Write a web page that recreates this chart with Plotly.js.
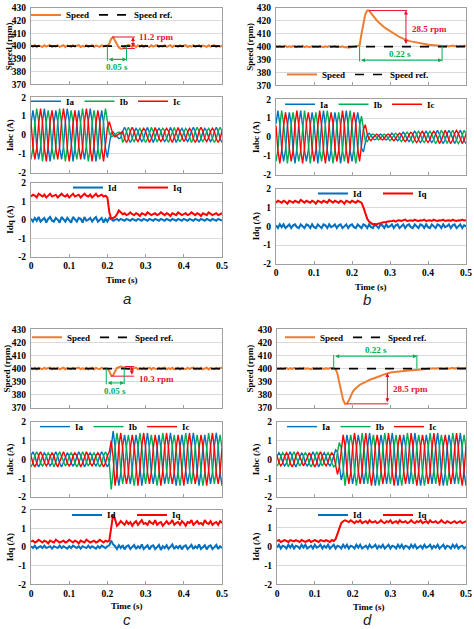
<!DOCTYPE html>
<html><head><meta charset="utf-8">
<script src="https://cdn.plot.ly/plotly-3.0.1.min.js"></script>
<style>html,body{margin:0;padding:0;background:#fff}#chart{width:474px;height:629px}</style>
</head><body><div id="chart"></div>
<script>
// ---------- sampling of all measured series (time axis in seconds) ----------
const T0 = 0, DT = 0.005;
const timeTicks = [0, 0.1, 0.2, 0.3, 0.4, 0.5];
const timeTickText = ['0', '0.1', '0.2', '0.3', '0.4', '0.5'];
const speedTicks = [370, 380, 390, 400, 410, 420, 430];
const currentTicks = [-2, -1, 0, 1, 2];
const currentTickText = ['-2', '-1', '0', '1', '2'];
const refTime = [0, 0.5];
const speedRef = [400, 400];
const panelLetters = ['a', 'b', 'c', 'd'];

// ---------- panel a ----------
const speedA = [400.5,399.5,400.8,399.3,400.5,400,399.4,400.7,399.6,400.4,400.8,399.4,400.3,399.6,400.7,399.5,400.4,400.8,399.3,400.5,
400,399.4,400.7,399.6,400.4,400.8,399.4,400.3,399.6,400.7,399.5,400.4,400.8,399.3,400.5,400,399.4,400.7,399.6,400.4,400.2,
402,406,407,404,401,399,398,398.2,399.2,400.3,401,
400.4,399.5,400.8,399.4,400.6,399.6,400.7,399.3,400.5,400,399.4,400.7,399.6,400.4,400.8,399.4,400.3,399.6,400.7,399.5,
400.4,400.8,399.3,400.5,400,399.4,400.7,399.6,400.4,400.8,399.4,400.3,399.6,400.7,399.5,400.4,400.8,399.3,400.5,400,
399.4,400.7,399.6,400.4,400.8,399.4,400.3,399.6,400.5];
const iaA = [0.6,1.3,0.7,-0.6,-1.3,-0.7, 0.7,1.4,0.6,-0.7,-1.4,-0.6, 0.6,1.3,0.7,-0.7,-1.3,-0.6, 0.7,1.4,0.7,-0.6,-1.4,-0.7,
0.6,1.3,0.6,-0.7,-1.3,-0.6, 0.7,1.4,0.7,-0.6,-1.4,-0.7, 0.6,1.3,0.6,-0.7,
-1.2,-0.5,0.1,0.15,0.05,-0.05,-0.2,-0.15,
0.2,0.4,0.2,-0.2,-0.4,-0.2, 0.15,0.35,0.2,-0.15,-0.35,-0.2, 0.2,0.4,0.15,-0.2,-0.4,-0.15, 0.2,0.35,0.2,-0.2,-0.35,-0.2,
0.15,0.4,0.2,-0.15,-0.4,-0.2, 0.2,0.35,0.15,-0.2,-0.35,-0.15, 0.2,0.4,0.2,-0.2,-0.4,-0.2, 0.15,0.35,0.2,-0.15,-0.35,-0.2,
0.2,0.4,0.2,-0.2,-0.4];
const ibA = [-1.3,-0.7,0.6,1.4,0.7,-0.6, -1.4,-0.6,0.7,1.3,0.6,-0.7, -1.3,-0.7,0.7,1.4,0.6,-0.6, -1.4,-0.7,0.6,1.3,0.7,-0.7,
-1.3,-0.6,0.7,1.4,0.6,-0.6, -1.4,-0.7,0.6,1.3,0.7,-0.7, -1.3,-0.6,0.7,1.4,
0.8,0.1,-0.1,-0.05,0.0,0.1,0.15,0.1,
-0.4,-0.2,0.2,0.4,0.2,-0.2, -0.35,-0.15,0.2,0.35,0.15,-0.2, -0.4,-0.2,0.15,0.4,0.2,-0.15, -0.35,-0.2,0.2,0.35,0.2,-0.2,
-0.4,-0.15,0.2,0.4,0.15,-0.2, -0.35,-0.2,0.15,0.35,0.2,-0.15, -0.4,-0.2,0.2,0.4,0.2,-0.2, -0.35,-0.15,0.2,0.35,0.15,-0.2,
-0.4,-0.2,0.2,0.4,0.2];
const icA = [0.7,-0.6,-1.3,-0.7,0.6,1.4, 0.7,-0.7,-1.4,-0.6,0.7,1.3, 0.6,-0.7,-1.3,-0.6,0.7,1.4, 0.7,-0.7,-1.4,-0.7,0.6,1.3,
0.6,-0.6,-1.3,-0.7,0.7,1.4, 0.7,-0.7,-1.4,-0.6,0.6,1.3, 0.7,-0.7,-1.4,-0.6,
0.4,0.7,0.3,0.0,-0.1,0.0,0.05,0.1,
0.2,-0.2,-0.4,-0.2,0.2,0.4, 0.2,-0.2,-0.35,-0.15,0.2,0.35, 0.2,-0.15,-0.4,-0.2,0.15,0.4, 0.15,-0.2,-0.35,-0.2,0.2,0.35,
0.2,-0.2,-0.4,-0.15,0.2,0.4, 0.15,-0.15,-0.35,-0.2,0.15,0.35, 0.2,-0.2,-0.4,-0.2,0.2,0.4, 0.2,-0.2,-0.35,-0.15,0.2,0.35,
0.2,-0.2,-0.4,-0.2,0.2];
const idA = [0.05,-0.1,0.1,-0.05,0.15,-0.1,0.0,0.1,-0.15,0.05,0.15,-0.05,-0.1,0.1,0.0,-0.15,0.15,0.05,-0.1,0.1,
-0.05,-0.15,0.15,0.0,-0.1,0.1,0.05,-0.15,0.15,-0.05,0.0,0.1,-0.1,0.05,0.15,-0.1,0.0,0.1,-0.15,0.05,
-0.1,0.1,0.05,-0.05,0.0,0.05,-0.05,0.05,0.0,-0.05,0.05,0.0,-0.05,0.05,0.02,-0.05,0.05,0.0,-0.05,0.05,
0.0,-0.05,0.05,0.02,-0.05,0.05,0.0,-0.05,0.05,0.0,-0.05,0.05,0.02,-0.05,0.05,0.0,-0.05,0.05,0.0,-0.05,
0.05,0.02,-0.05,0.05,0.0,-0.05,0.05,0.0,-0.05,0.05,0.02,-0.05,0.05,0.0,-0.05,0.05,0.0,-0.05,0.05,0.02,-0.05];
const iqA = [1.25,1.35,1.3,1.2,1.4,1.3,1.25,1.35,1.2,1.3,1.4,1.25,1.3,1.35,1.2,1.3,1.4,1.3,1.25,1.35,
1.2,1.3,1.4,1.25,1.3,1.35,1.2,1.3,1.4,1.3,1.25,1.35,1.2,1.3,1.4,1.25,1.3,1.35,1.25,1.3,
1.2,0.4,0.05,0.1,0.15,0.3,0.5,0.4,
0.3,0.35,0.25,0.3,0.4,0.3,0.25,0.35,0.3,0.2,0.35,0.3,0.25,0.4,0.3,0.25,0.3,0.35,0.25,0.3,
0.4,0.3,0.25,0.35,0.3,0.2,0.35,0.3,0.25,0.4,0.3,0.25,0.3,0.35,0.25,0.3,0.4,0.3,0.25,0.35,
0.3,0.2,0.35,0.3,0.25,0.4,0.3,0.25,0.3,0.35,0.25,0.3,0.35];

// ---------- panel b ----------
const speedB = [400.3,399.8,400.5,399.6,400.2,400.6,399.7,400.3,399.8,400.5,400.1,399.6,400.4,399.9,400.6,399.7,400.3,400,399.6,400.5,
399.8,400.3,399.7,400.5,400,399.6,400.3,399.8,400.4,399.7,400.2,400.5,399.6,400.1,399.8,400.3,399.5,399.8,399.2,399.5,
399.3,399.6,400,400.3,
401,410,419,425,428,428,426,424,422,420.5,
419,417.5,416,415,414,413,412,411,410,409,
408.3,407.5,406.8,406.1,405.5,405,404.5,404.1,403.8,403.4,
403,402.7,402.4,402.1,401.9,401.7,401.5,401.3,401.2,401.1,
401,
400.6,401,400.4,400.8,400.3,400.7,400.2,400.6,400.9,400.3,400.6,400.2,400.7,400.4,400.8,400.5];
const iaB = [0.7,1.4,0.7,-0.6,-1.3,-0.7, 0.6,1.3,0.7,-0.7,-1.4,-0.6, 0.7,1.4,0.6,-0.7,-1.3,-0.7, 0.6,1.3,0.7,-0.6,-1.4,-0.6,
0.7,1.4,0.6,-0.7,-1.3,-0.7, 0.6,1.3,0.7,-0.6,-1.4,-0.7, 0.7,1.4,0.6,-0.7,-1.3,-0.6,
0.7,1.3,0.7,
-0.6,-0.8,-0.3,0.1,0.2,0.1,
-0.1,-0.15,-0.1,
0.08,0.15,0.08,-0.08,-0.15,-0.08, 0.1,0.2,0.1,-0.1,-0.2,-0.1, 0.12,0.25,0.12,-0.12,-0.25,-0.12, 0.15,0.3,0.15,-0.15,-0.3,-0.15,
0.15,0.3,0.15,-0.15,-0.3,-0.15, 0.18,0.35,0.15,-0.18,-0.35,-0.15, 0.15,0.35,0.18,-0.15,-0.35,-0.18,
0.18,0.35,0.15,-0.18,-0.35];
const ibB = [-1.3,-0.7,0.6,1.4,0.7,-0.6, -1.4,-0.6,0.7,1.3,0.6,-0.7, -1.3,-0.7,0.6,1.4,0.7,-0.6, -1.4,-0.7,0.7,1.3,0.6,-0.7,
-1.3,-0.6,0.7,1.4,0.7,-0.6, -1.4,-0.7,0.6,1.3,0.6,-0.7, -1.3,-0.6,0.7,1.4,0.6,-0.7,
-1.4,-0.7,0.6,
1.1,0.4,-0.2,-0.25,-0.1,0.1,
0.15,0.1,-0.05,
-0.15,-0.08,0.08,0.15,0.08,-0.08, -0.2,-0.1,0.1,0.2,0.1,-0.1, -0.25,-0.12,0.12,0.25,0.12,-0.12, -0.3,-0.15,0.15,0.3,0.15,-0.15,
-0.3,-0.15,0.15,0.3,0.15,-0.15, -0.35,-0.18,0.15,0.35,0.18,-0.15, -0.35,-0.15,0.18,0.35,0.15,-0.18,
-0.35,-0.18,0.15,0.35,0.18];
const icB = [0.6,-0.7,-1.4,-0.7,0.6,1.3, 0.7,-0.6,-1.3,-0.7,0.7,1.4, 0.6,-0.7,-1.4,-0.6,0.7,1.3, 0.7,-0.6,-1.3,-0.7,0.6,1.4,
0.6,-0.7,-1.4,-0.6,0.7,1.3, 0.7,-0.6,-1.3,-0.7,0.6,1.4, 0.6,-0.7,-1.4,-0.6,0.7,1.3,
0.7,-0.6,-1.3,
-0.5,0.4,0.65,0.15,-0.1,-0.2,
-0.05,0.05,0.15,
0.08,-0.08,-0.15,-0.08,0.08,0.15, 0.1,-0.1,-0.2,-0.1,0.1,0.2, 0.12,-0.12,-0.25,-0.12,0.12,0.25, 0.15,-0.15,-0.3,-0.15,0.15,0.3,
0.15,-0.15,-0.3,-0.15,0.15,0.3, 0.18,-0.15,-0.35,-0.18,0.15,0.35, 0.15,-0.18,-0.35,-0.15,0.18,0.35,
0.18,-0.15,-0.35,-0.18,0.15];
const idB = [0.05,-0.1,0.1,-0.05,0.1,-0.1,0.0,0.1,-0.1,0.05, 0.1,-0.05,-0.1,0.1,0.0,-0.1,0.1,0.05,-0.1,0.1,
-0.05,-0.1,0.1,0.0,-0.1,0.1,0.05,-0.1,0.1,-0.05, 0.0,0.1,-0.1,0.05,0.1,-0.1,0.0,0.1,-0.1,0.05,
0.1,-0.05,-0.1,0.1,0.0,-0.1,0.1,0.05,-0.1,0.1, -0.05,-0.1,0.1,0.0,-0.1,0.1,0.05,-0.1,0.1,-0.05,
0.0,0.1,-0.1,0.05,0.1,-0.1,0.0,0.1,-0.1,0.05, 0.1,-0.05,-0.1,0.1,0.0,-0.1,0.1,0.05,-0.1,0.1,
-0.05,-0.1,0.1,0.0,-0.1,0.1,0.05,-0.1,0.1,-0.05, 0.0,0.1,-0.1,0.05,0.1,-0.1,0.0,0.1,-0.1,0.05, 0.0];
const iqB = [1.25,1.35,1.3,1.25,1.35,1.3,1.2,1.35,1.3,1.25,1.35,1.3,1.25,1.4,1.3,1.25,1.35,1.3,1.25,1.35,
1.3,1.2,1.35,1.3,1.25,1.35,1.3,1.25,1.4,1.3,1.25,1.35,1.3,1.25,1.35,1.3,1.2,1.35,1.3,1.25,
1.35,1.3,1.25,1.35,1.3,
1.25,1.0,0.7,0.4,0.25,0.15,0.1,0.12,0.1,0.15,0.15,0.2,0.2,0.22,0.25,0.25,
0.28,0.3,0.25,0.3,0.32,0.28,0.3,0.35,0.28,0.3,0.32,0.28,0.35,0.3,0.28,0.32,0.3,0.35,0.28,0.3,
0.32,0.28,0.35,0.3,0.28,0.32,0.3,0.35,0.28,0.3,0.32,0.28,0.35,0.3,0.28,0.32,0.3,0.35,0.3,0.32];

// ---------- panel c ----------
const speedC = [400.4,399.6,400.7,399.4,400.5,400,399.5,400.6,399.7,400.4,400.7,399.4,400.3,399.6,400.6,399.5,400.4,400.7,399.4,400.5,
400,399.5,400.6,399.7,400.4,400.7,399.4,400.3,399.6,400.6,399.5,400.4,400.7,399.4,400.5,400,399.5,400.6,399.7,400.3,400,
398,394.5,395,398,400.5,401,401.5,401,400.5,
400.2,399.6,400.6,399.5,400.4,400.7,399.4,400.3,399.6,400.6,399.5,400.4,400.7,399.4,400.5,400,399.5,400.6,399.7,400.4,
400.7,399.4,400.3,399.6,400.6,399.5,400.4,400.7,399.4,400.5,400,399.5,400.6,399.7,400.4,400.7,399.4,400.3,399.6,400.6,
399.5,400.4,400.7,399.4,400.5,400,399.5,400.6,399.7,400.4,400.6];
const iaC = [0.2,0.4,0.2,-0.2,-0.4,-0.2, 0.15,0.35,0.2,-0.15,-0.35,-0.2, 0.2,0.4,0.15,-0.2,-0.4,-0.15, 0.2,0.35,0.2,-0.2,-0.35,-0.2,
0.15,0.4,0.2,-0.15,-0.4,-0.2, 0.2,0.35,0.15,-0.2,-0.35,-0.15, 0.2,0.4,0.2,-0.2,-0.4,-0.2,
0.6,1.5,0.7,-0.7,-1.4,-0.7, 0.7,1.3,0.6,-0.7,-1.3,-0.6, 0.6,1.3,0.7,-0.6,-1.4,-0.7, 0.7,1.4,0.6,-0.7,-1.3,-0.6,
0.6,1.3,0.6,-0.6,-1.3,-0.7, 0.7,1.4,0.7,-0.7,-1.4,-0.6, 0.6,1.3,0.6,-0.6,-1.3,-0.7, 0.7,1.4,0.7,-0.7,-1.4,-0.6,
0.6,1.3,0.6,-0.6,-1.3,-0.7, 0.7,1.4,0.7,-0.7,-1.4];
const ibC = [-0.4,-0.2,0.2,0.4,0.2,-0.2, -0.35,-0.2,0.15,0.35,0.2,-0.15, -0.4,-0.15,0.2,0.4,0.15,-0.2, -0.35,-0.2,0.2,0.35,0.2,-0.2,
-0.4,-0.2,0.15,0.4,0.2,-0.15, -0.35,-0.15,0.2,0.35,0.15,-0.2, -0.4,-0.2,0.2,0.4,0.2,-0.2,
-1.6,-0.7,0.6,1.4,0.7,-0.6, -1.3,-0.6,0.7,1.3,0.6,-0.7, -1.4,-0.7,0.6,1.4,0.7,-0.6, -1.3,-0.6,0.7,1.3,0.6,-0.7,
-1.4,-0.7,0.6,1.4,0.7,-0.6, -1.3,-0.6,0.7,1.3,0.6,-0.7, -1.4,-0.7,0.6,1.4,0.7,-0.6, -1.3,-0.6,0.7,1.3,0.6,-0.7,
-1.4,-0.7,0.6,1.4,0.7,-0.6, -1.3,-0.6,0.7,1.3,0.6];
const icC = [0.2,-0.2,-0.4,-0.2,0.2,0.4, 0.2,-0.15,-0.35,-0.2,0.15,0.35, 0.2,-0.2,-0.4,-0.15,0.2,0.4, 0.15,-0.2,-0.35,-0.2,0.2,0.35,
0.2,-0.15,-0.4,-0.2,0.15,0.4, 0.2,-0.2,-0.35,-0.15,0.2,0.35, 0.2,-0.2,-0.4,-0.2,0.2,0.4,
1.0,0.1,-1.4,-0.7,0.7,1.4, 0.6,-0.7,-1.3,-0.7,0.6,1.3, 0.7,-0.6,-1.4,-0.6,0.7,1.4, 0.6,-0.7,-1.3,-0.7,0.6,1.3,
0.7,-0.6,-1.4,-0.6,0.7,1.4, 0.6,-0.7,-1.3,-0.7,0.6,1.3, 0.7,-0.6,-1.4,-0.6,0.7,1.4, 0.6,-0.7,-1.3,-0.7,0.6,1.3,
0.7,-0.6,-1.4,-0.6,0.7,1.4, 0.6,-0.7,-1.3,-0.7,0.6];
const idC = [0.05,-0.05,0.08,-0.08,0.0,0.05,-0.05,0.08,-0.05,0.0,0.05,-0.08,0.05,0.0,-0.05,0.08,-0.05,0.05,0.0,-0.08,
0.05,-0.05,0.08,0.0,-0.05,0.05,-0.08,0.05,0.0,-0.05,0.08,-0.05,0.05,0.0,-0.08,0.05,-0.05,0.08,0.0,-0.05,0.05,0.1,
0.35,0.15,0.05,-0.1,0.1,-0.05,0.1,-0.12,0.05,0.1,-0.1,0.0,0.12,-0.1,0.05,-0.05,0.15,-0.1,0.0,0.1,
-0.12,0.05,0.1,-0.1,0.0,0.12,-0.15,0.05,-0.05,0.1,-0.1,0.0,0.15,-0.1,0.05,-0.05,0.1,-0.12,0.05,0.1,
-0.1,0.0,0.12,-0.1,0.05,-0.05,0.15,-0.1,0.0,0.1,-0.12,0.05,0.1,-0.1,0.0,0.12,-0.1,0.05,-0.05];
const iqC = [0.3,0.35,0.25,0.3,0.4,0.3,0.25,0.35,0.3,0.2,0.35,0.3,0.25,0.4,0.3,0.25,0.3,0.35,0.25,0.3,
0.4,0.3,0.25,0.35,0.3,0.2,0.35,0.3,0.25,0.4,0.3,0.25,0.3,0.35,0.25,0.3,0.4,0.3,0.25,0.35,0.3,0.35,
1.2,1.75,1.5,1.15,1.25,1.4,
1.3,1.2,1.4,1.25,1.35,1.15,1.3,1.4,1.2,1.3,1.45,1.25,1.3,1.2,1.4,1.3,1.25,1.45,1.2,1.3,
1.35,1.15,1.3,1.4,1.25,1.3,1.45,1.2,1.3,1.35,1.2,1.4,1.3,1.15,1.35,1.3,1.45,1.2,1.3,1.4,
1.25,1.3,1.2,1.45,1.3,1.25,1.4,1.2,1.3,1.35,1.2,1.4,1.3];

// ---------- panel d ----------
const speedD = [400.3,399.7,400.4,399.8,400.2,400.5,399.6,400.3,399.8,400.4,400.1,399.7,400.4,399.9,400.5,399.7,400.3,400,399.6,400.4,
399.8,400.3,399.7,400.4,400,399.7,400.3,399.8,400.4,400.6,400.5,
399.5,396,389,381,376,373,373.2,375.5,379,382,
384,385.5,386.8,387.8,388.5,389.3,390,390.8,391.5,392,
392.4,392.8,393.2,393.8,394.5,395.2,395.8,396.3,396.7,397,
397.2,397.4,397.6,397.8,397.9,398,398.2,398.3,398.5,398.6,
398.7,398.8,398.9,399,399.2,399.3,399.5,399.6,399.8,400,
400.2,399.8,400.3,399.9,400.4,400,400.3,399.8,400.2,400.5,399.9,400.3,400.6,400,400.4,400.7,400.1,400.5,400.3,400.6];
const iaD = [0.15,0.35,0.2,-0.15,-0.35,-0.2, 0.2,0.4,0.15,-0.2,-0.4,-0.15, 0.2,0.35,0.2,-0.2,-0.35,-0.2, 0.15,0.4,0.2,-0.15,-0.4,-0.2,
0.2,0.35,0.15,-0.2,-0.35,-0.15, 0.2,0.5,0.4,-0.5,-1.1,-0.7, 0.6,1.3,0.7,-0.6,-1.3,-0.7,
0.6,1.3,0.7,-0.6,-1.3,-0.6, 0.7,1.4,0.6,-0.7,-1.4,-0.7, 0.6,1.3,0.7,-0.6,-1.3,-0.6, 0.7,1.4,0.6,-0.7,-1.4,-0.7,
0.6,1.3,0.7,-0.6,-1.3,-0.6, 0.7,1.4,0.6,-0.7,-1.4,-0.7, 0.6,1.3,0.7,-0.6,-1.3,-0.6, 0.7,1.4,0.6,-0.7,-1.4,-0.7,
0.6,1.3,0.7,-0.6,-1.3,-0.6, 0.7,1.4,0.6,-0.7,-1.4];
const ibD = [-0.35,-0.2,0.15,0.35,0.2,-0.15, -0.4,-0.15,0.2,0.4,0.15,-0.2, -0.35,-0.2,0.2,0.35,0.2,-0.2, -0.4,-0.2,0.15,0.4,0.2,-0.15,
-0.35,-0.15,0.2,0.35,0.15,-0.2, -0.4,-0.3,0.4,0.9,0.6,-0.6, -1.4,-0.6,0.7,1.3,0.7,-0.6,
-1.4,-0.7,0.6,1.4,0.7,-0.6, -1.3,-0.6,0.7,1.3,0.6,-0.7, -1.4,-0.7,0.6,1.4,0.7,-0.6, -1.3,-0.6,0.7,1.3,0.6,-0.7,
-1.4,-0.7,0.6,1.4,0.7,-0.6, -1.3,-0.6,0.7,1.3,0.6,-0.7, -1.4,-0.7,0.6,1.4,0.7,-0.6, -1.3,-0.6,0.7,1.3,0.6,-0.7,
-1.4,-0.7,0.6,1.4,0.7,-0.6, -1.3,-0.6,0.7,1.3,0.6];
const icD = [0.2,-0.15,-0.35,-0.2,0.15,0.35, 0.2,-0.2,-0.4,-0.2,0.2,0.4, 0.15,-0.15,-0.35,-0.15,0.15,0.35, 0.2,-0.2,-0.4,-0.2,0.2,0.4,
0.15,-0.2,-0.35,-0.15,0.2,0.35, 0.2,-0.3,-0.8,-0.4,0.6,1.3, 0.7,-0.6,-1.3,-0.7,0.6,1.4,
0.7,-0.6,-1.3,-0.7,0.6,1.4, 0.6,-0.7,-1.4,-0.6,0.7,1.3, 0.7,-0.6,-1.3,-0.7,0.6,1.4, 0.6,-0.7,-1.4,-0.6,0.7,1.3,
0.7,-0.6,-1.3,-0.7,0.6,1.4, 0.6,-0.7,-1.4,-0.6,0.7,1.3, 0.7,-0.6,-1.3,-0.7,0.6,1.4, 0.6,-0.7,-1.4,-0.6,0.7,1.3,
0.7,-0.6,-1.3,-0.7,0.6,1.4, 0.6,-0.7,-1.4,-0.6,0.7];
const idD = [-0.05,0.1,-0.1,0.05,0.0,-0.1,0.1,-0.05,0.1,-0.1, 0.05,0.0,-0.1,0.1,-0.05,0.1,-0.1,0.0,0.05,-0.1,
0.1,-0.05,0.0,0.1,-0.1,0.05,-0.05,0.1,-0.1,0.0, 0.1,-0.1,0.05,0.0,-0.1,0.1,-0.05,0.1,-0.1,0.05,
0.0,-0.1,0.1,-0.05,0.1,-0.1,0.0,0.05,-0.1,0.1, -0.05,0.0,0.1,-0.1,0.05,-0.05,0.1,-0.1,0.0,0.1,
-0.1,0.05,0.0,-0.1,0.1,-0.05,0.1,-0.1,0.05,0.0, -0.1,0.1,-0.05,0.1,-0.1,0.0,0.05,-0.1,0.1,-0.05,
0.0,0.1,-0.1,0.05,-0.05,0.1,-0.1,0.0,0.1,-0.1, 0.05,0.0,-0.1,0.1,-0.05,0.1,-0.1,0.0,0.05,-0.1, 0.0];
const iqD = [0.3,0.35,0.25,0.3,0.35,0.3,0.25,0.35,0.3,0.28,0.35,0.3,0.25,0.35,0.3,0.25,0.3,0.35,0.25,0.3,
0.35,0.3,0.25,0.35,0.3,0.28,0.35,0.3,0.25,0.35,0.3,
0.4,0.7,1.0,1.25,1.35,
1.4,1.35,1.3,1.4,1.3,1.25,1.35,1.3,1.4,1.25, 1.3,1.35,1.25,1.4,1.3,1.3,1.35,1.25,1.3,1.4,
1.3,1.25,1.35,1.3,1.4,1.25,1.3,1.35,1.25,1.4, 1.3,1.3,1.35,1.25,1.3,1.4,1.3,1.25,1.35,1.3,
1.4,1.25,1.3,1.35,1.25,1.4,1.3,1.3,1.35,1.25, 1.3,1.4,1.3,1.25,1.35,1.3,1.25,1.3,1.35,1.25, 1.3,1.35,1.25,1.3,1.35];

// ---------- build ----------
const SERIF = 'Liberation Serif, "Times New Roman", serif';
const SANS = 'Liberation Sans, Arial, sans-serif';
const W = 474, H = 629;
const C = {speed:'#ED7D31', ref:'#000000', a:'#0070C0', b:'#00B050', c:'#FF0000', d:'#0070C0', q:'#FF0000', red:'#E8112D', green:'#00B050', frame:'#A0A0A0', grid:'#D9D9D9'};

const panels = [
  {speed:speedA, ia:iaA, ib:ibA, ic:icA, id:idA, iq:iqA},
  {speed:speedB, ia:iaB, ib:ibB, ic:icB, id:idB, iq:iqB},
  {speed:speedC, ia:iaC, ib:ibC, ic:icC, id:idC, iq:iqC},
  {speed:speedD, ia:iaD, ib:ibD, ic:icD, id:idD, iq:iqD}
];
// pixel geometry of each panel (layout only)
const geo = [
  {x:[31,222], rows:[[3,80],[93,169],[179,254]], ytx:[9,10,10], time:[122,277], letter:[127,296],
   leg:[[33,10],[33,97],[75,184]]},
  {x:[276,466], rows:[[3,81],[95,171],[185,261]], ytx:[250,256,256], time:[371,284], letter:[367,297],
   leg:[[289,70],[287,100],[320,190]]},
  {x:[31,222], rows:[[327,406],[420,496],[509,584]], ytx:[7,10,10], time:[127,606], letter:[127,619],
   leg:[[34,335],[42,425],[74,514]]},
  {x:[277,466], rows:[[327,406],[420,496],[508,584]], ytx:[250,256,256], time:[369,607], letter:[367,619],
   leg:[[287,335],[289,425],[320,514]]}
];
const yTitles = ['Speed (rpm)', 'Iabc (A)', 'Idq (A)'];

const tickFont = {family:SERIF, size:9.5, color:'#000', weight:'bold'};
const legFont = {family:SERIF, size:9, color:'#000', weight:'bold'};

const layout = {
  width:W, height:H, margin:{l:0,r:0,t:0,b:0},
  paper_bgcolor:'#fff', plot_bgcolor:'#fff', showlegend:true,
  font:{family:SERIF, size:9, color:'#000'},
  annotations:[], shapes:[]
};
const traces = [];
const px = v => v / W, py = v => 1 - v / H;

function lineTrace(y, name, color, width, sfx, leg, dash) {
  return {type:'scatter', mode:'lines', x0:T0, dx:DT, y:y, name:name,
    xaxis:'x'+sfx, yaxis:'y'+sfx, legend:leg,
    line:{color:color, width:width, dash:dash||'solid'}, hoverinfo:'skip'};
}

panels.forEach((pd, p) => {
  const g = geo[p];
  for (let r = 0; r < 3; r++) {
    const n = p*3 + r + 1;
    const sfx = n === 1 ? '' : String(n);
    const leg = n === 1 ? 'legend' : 'legend' + n;
    const row = g.rows[r];
    layout['xaxis'+sfx] = {
      domain:[px(g.x[0]), px(g.x[1])], anchor:'y'+sfx, range:[0,0.5],
      tickvals:timeTicks, ticktext:timeTickText, showticklabels:r===2,
      ticks:'inside', ticklen:3, tickcolor:C.frame, tickfont:tickFont,
      showline:true, mirror:true, linecolor:C.frame, linewidth:1,
      showgrid:false, zeroline:false, fixedrange:true
    };
    const isSpeed = r === 0;
    layout['yaxis'+sfx] = {
      domain:[py(row[1]), py(row[0])], anchor:'x'+sfx,
      range: isSpeed ? [370,430] : [-2,2],
      tickvals: isSpeed ? speedTicks : currentTicks,
      ticktext: isSpeed ? speedTicks.map(String) : currentTickText,
      ticks:'', tickfont:tickFont, ticklabelstandoff:2,
      showline:true, mirror:true, linecolor:C.frame, linewidth:1,
      showgrid:true, gridcolor:C.grid, gridwidth:1, zeroline:false, fixedrange:true
    };
    layout[leg] = {
      x: px(g.leg[r][0] - 7), y: py(g.leg[r][1]), xanchor:'left', yanchor:'middle',
      orientation:'h', bgcolor:'rgba(0,0,0,0)', borderwidth:0, font:legFont,
      itemwidth:30, itemclick:false, itemdoubleclick:false,
      entrywidth: r === 2 ? 20 : undefined
    };
    if (r === 0) {
      traces.push(lineTrace(pd.speed, 'Speed', C.speed, 2, sfx, leg));
      traces.push({type:'scatter', mode:'lines', x:refTime, y:speedRef, name:'Speed ref.',
        xaxis:'x'+sfx, yaxis:'y'+sfx, legend:leg, line:{color:C.ref, width:1.6, dash:'dash'}, hoverinfo:'skip'});
    } else if (r === 1) {
      traces.push(lineTrace(pd.ia, 'Ia', C.a, 1.4, sfx, leg));
      traces.push(lineTrace(pd.ib, 'Ib', C.b, 1.4, sfx, leg));
      traces.push(lineTrace(pd.ic, 'Ic', C.c, 1.4, sfx, leg));
    } else {
      traces.push(lineTrace(pd.id, 'Id', C.d, 2, sfx, leg));
      traces.push(lineTrace(pd.iq, 'Iq', C.q, 2, sfx, leg));
    }
    layout.annotations.push({text:yTitles[r], xref:'paper', yref:'paper',
      x:px(g.ytx[r]), y:py((row[0]+row[1])/2), textangle:-90, showarrow:false,
      xanchor:'center', yanchor:'middle', font:{family:SERIF, size:9, weight:'bold', color:'#000'}});
  }
  layout.annotations.push({text:'Time (s)', xref:'paper', yref:'paper', x:px(g.time[0]), y:py(g.time[1]),
    showarrow:false, xanchor:'center', yanchor:'middle', font:{family:SERIF, size:9, weight:'bold', color:'#000'}});
  layout.annotations.push({text:panelLetters[p], xref:'paper', yref:'paper', x:px(g.letter[0]), y:py(g.letter[1]),
    showarrow:false, xanchor:'center', yanchor:'middle', font:{family:SANS, size:15, style:'italic', color:'#222'}});
});

// ---------- measurement marks on the speed plots ----------
function hline(ax, x0, x1, y, col) { layout.shapes.push({type:'line', xref:'x'+ax, yref:'y'+ax, x0:x0, x1:x1, y0:y, y1:y, line:{color:col, width:1}}); }
function vline(ax, x, y0, y1, col) { layout.shapes.push({type:'line', xref:'x'+ax, yref:'y'+ax, x0:x, x1:x, y0:y0, y1:y1, line:{color:col, width:1}}); }
function darrow(ax, x0, y0, x1, y1, col) {
  layout.annotations.push({text:'', xref:'x'+ax, yref:'y'+ax, axref:'x'+ax, ayref:'y'+ax,
    x:x1, y:y1, ax:x0, ay:y0, showarrow:true, arrowside:'end+start', arrowhead:2, arrowsize:0.8,
    arrowwidth:1, arrowcolor:col, standoff:0, startstandoff:0});
}
function label(ax, x, y, text, col, anchor) {
  layout.annotations.push({text:text, xref:'x'+ax, yref:'y'+ax, x:x, y:y, showarrow:false,
    xanchor:anchor||'center', yanchor:'middle', font:{family:SERIF, size:9, weight:'bold', color:col}});
}
// a
hline('', 0.212, 0.272, 407.2, C.red); hline('', 0.24, 0.272, 398.2, C.red);
darrow('', 0.267, 398.2, 0.267, 407.2, C.red); label('', 0.278, 407, '11.2 rpm', C.red, 'left');
vline('', 0.2, 400, 388.5, C.green); vline('', 0.25, 400, 388.5, C.green);
darrow('', 0.2, 389.5, 0.25, 389.5, C.green); label('', 0.224, 384, '0.05 s', C.green);
// b
hline('4', 0.245, 0.345, 428, C.red);
darrow('4', 0.342, 401, 0.342, 428, C.red); label('4', 0.352, 414, '28.5 rpm', C.red, 'left');
vline('4', 0.22, 400, 388.5, C.green); vline('4', 0.437, 401, 388.5, C.green);
darrow('4', 0.22, 389.5, 0.437, 389.5, C.green); label('4', 0.325, 394, '0.22 s', C.green);
// c
hline('7', 0.245, 0.27, 401.6, C.red); hline('7', 0.21, 0.27, 394.2, C.red);
darrow('7', 0.264, 394.2, 0.264, 401.6, C.red); label('7', 0.278, 392, '10.3 rpm', C.red, 'left');
vline('7', 0.197, 400, 388, C.green); vline('7', 0.244, 400, 388, C.green);
darrow('7', 0.197, 389, 0.244, 389, C.green); label('7', 0.221, 383, '0.05 s', C.green);
// d
vline('10', 0.15, 400, 410.5, C.green); vline('10', 0.37, 400, 410.5, C.green);
darrow('10', 0.15, 409.5, 0.37, 409.5, C.green); label('10', 0.262, 414, '0.22 s', C.green);
hline('10', 0.185, 0.295, 373, C.red);
darrow('10', 0.292, 373, 0.292, 396.7, C.red); label('10', 0.302, 384, '28.5 rpm', C.red, 'left');

Plotly.newPlot('chart', traces, layout, {staticPlot:true, displayModeBar:false});
</script></body></html>
